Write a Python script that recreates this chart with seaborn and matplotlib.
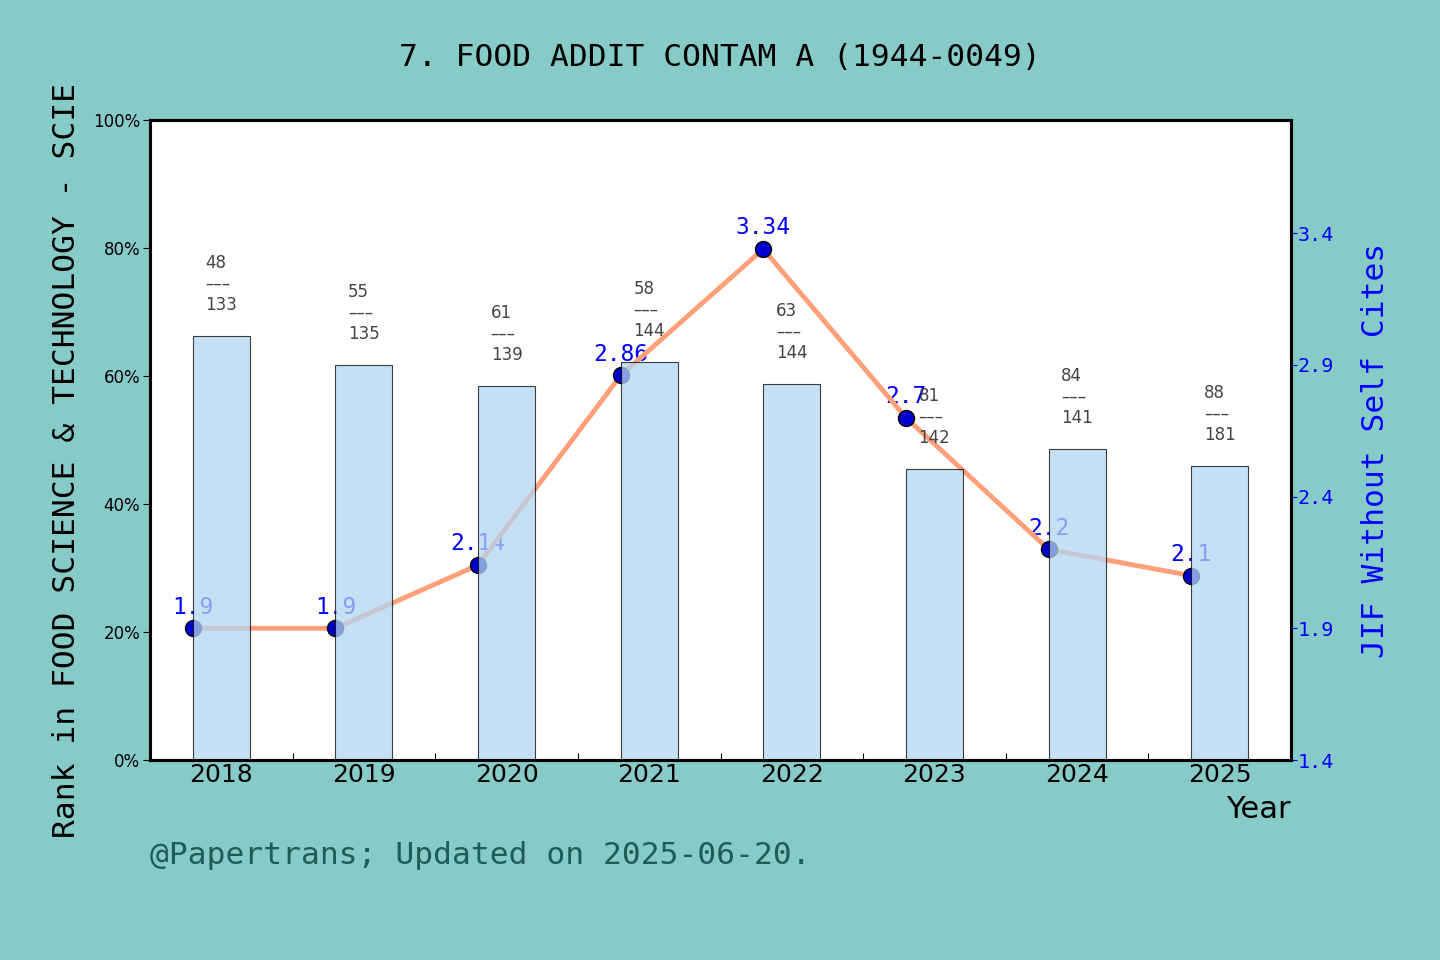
import numpy as np
import matplotlib
matplotlib.use("Agg")
import matplotlib.pyplot as plt
import seaborn as sns
from matplotlib.ticker import FuncFormatter, FixedLocator

# data
years = ["2018", "2019", "2020", "2021", "2022", "2023", "2024", "2025"]
bar_share = [0.6625, 0.617, 0.584, 0.622, 0.5875, 0.455, 0.486, 0.459]
rank = [48, 55, 61, 58, 63, 81, 84, 88]
total = [133, 135, 139, 144, 144, 142, 141, 181]
jif = [1.9, 1.9, 2.14, 2.86, 3.34, 2.7, 2.2, 2.1]
jif_labels = ["1.9", "1.9", "2.14", "2.86", "3.34", "2.7", "2.2", "2.1"]

bg = "#87cbc9"
sns.set_style("ticks")
plt.rcParams["font.family"] = ["DejaVu Sans"]
plt.rcParams["text.color"] = "black"
plt.rcParams["axes.labelcolor"] = "black"
plt.rcParams["xtick.color"] = "black"
plt.rcParams["ytick.color"] = "black"

fig = plt.figure(figsize=(14.4, 9.6), dpi=100, facecolor=bg)
ax = fig.add_axes([150 / 1440, 200 / 960, 1141 / 1440, 640 / 960])
ax2 = ax.twinx()

# bars sit on top of the JIF line
ax.set_zorder(ax2.get_zorder() + 1)
ax.patch.set_visible(False)
ax2.patch.set_visible(True)
ax2.patch.set_facecolor("white")

sns.barplot(x=years, y=bar_share, color="#b2d6f2", saturation=1, width=0.4,
            edgecolor="black", linewidth=0.8, alpha=0.75, ax=ax)

xpos = np.arange(len(years)) - 0.2
sns.lineplot(x=xpos, y=jif, color="#ffa07a", linewidth=3.5, ax=ax2,
             marker="o", markersize=11.5, markerfacecolor="#0000cd",
             markeredgecolor="black", markeredgewidth=1, zorder=2)
for x, y, s in zip(xpos, jif, jif_labels):
    ax2.annotate(s, (x, y), xytext=(0, 7), textcoords="offset points",
                 ha="center", va="bottom", color="blue",
                 family="DejaVu Sans Mono", fontsize=16.5, zorder=1)

for i, (r, t, b) in enumerate(zip(rank, total, bar_share)):
    ax.annotate(f"{r}\n\u2013\u2013\u2013\n{t}", (i, b), xytext=(0, 16),
                textcoords="offset points", ha="center", va="bottom",
                multialignment="left", color="#444444", fontsize=12,
                linespacing=1.2)

ax.set_xlim(-0.5, len(years) - 0.5)
ax.set_ylim(0, 1.0)
ax2.set_ylim(1.4, 3.83)
ax.yaxis.set_major_locator(FixedLocator([0, 0.2, 0.4, 0.6, 0.8, 1.0]))
ax.yaxis.set_major_formatter(FuncFormatter(lambda v, p: f"{v * 100:.0f}%"))
ax2.yaxis.set_major_locator(FixedLocator([1.4, 1.9, 2.4, 2.9, 3.4]))
ax2.yaxis.set_major_formatter(FuncFormatter(lambda v, p: f"{v:.1f}"))

ax.set_xticks(range(len(years)))
ax.set_xticklabels(years)
ax.tick_params(axis="x", length=0, labelsize=18, pad=2, colors="black")
ax.set_xticks(np.arange(len(years) - 1) + 0.5, minor=True)
ax.tick_params(axis="x", which="minor", direction="in", length=5, width=0.8)
ax.tick_params(axis="y", length=5, width=0.8, labelsize=12, pad=2, colors="black")
ax2.tick_params(axis="y", length=4, width=0.8, colors="blue", labelsize=14.5, pad=1)
for lab in ax2.get_yticklabels():
    lab.set_family("DejaVu Sans Mono")
ax2.set_ylabel("")
ax.set_ylabel("")

for a in (ax, ax2):
    for sp in a.spines.values():
        sp.set_visible(True)
        sp.set_color("black")
        sp.set_linewidth(2.2)

ax.set_xlabel("Year", loc="right", fontsize=22, labelpad=6, color="black")

mono = "DejaVu Sans Mono"
fig.text(0.5, 1 - 57 / 960, "7. FOOD ADDIT CONTAM A (1944-0049)", ha="center",
         va="center", family=mono, fontsize=22.5, color="black")
fig.text(67 / 1440, 1 - 460 / 960, "Rank in FOOD SCIENCE & TECHNOLOGY - SCIE",
         rotation=90, ha="center", va="center", family=mono, fontsize=22.5)
fig.text(1375 / 1440, 1 - 450 / 960, "JIF Without Self Cites", rotation=90,
         ha="center", va="center", family=mono, fontsize=22.5, color="blue")
fig.text(150 / 1440, 1 - 855 / 960, "@Papertrans; Updated on 2025-06-20.",
         ha="left", va="center", family=mono, fontsize=22.5, color="#1d5c57")

fig.savefig("out.png", dpi=100, facecolor=bg)
